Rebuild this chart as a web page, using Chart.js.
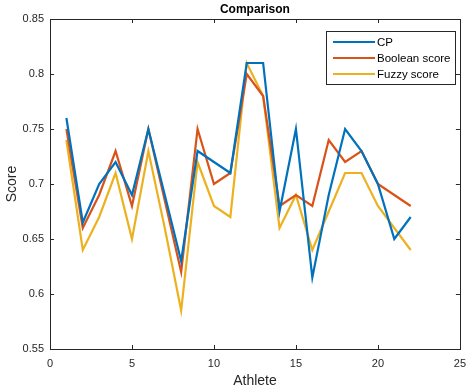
<!DOCTYPE html>
<html>
<head>
<meta charset="utf-8">
<script src="https://cdn.jsdelivr.net/npm/chart.js@4.4.1/dist/chart.umd.min.js"></script>
<style>
  html, body { margin: 0; padding: 0; background: #fff; }
  #wrap { width: 474px; height: 387px; position: relative; }
</style>
</head>
<body>
<div id="wrap"><canvas id="chart" width="474" height="387"></canvas></div>
<script>
// athletes 1..22
const athletes = [1, 2, 3, 4, 5, 6, 7, 8, 9, 10, 11, 12, 13, 14, 15, 16, 17, 18, 19, 20, 21, 22];
const cp = [0.76, 0.665, 0.70, 0.72, 0.69, 0.75, 0.69, 0.63, 0.73, 0.72, 0.71, 0.81, 0.81, 0.675, 0.75, 0.615, 0.69, 0.75, 0.73, 0.70, 0.65, 0.67];
const booleanScore = [0.75, 0.66, 0.69, 0.73, 0.68, 0.75, 0.685, 0.62, 0.75, 0.70, 0.71, 0.80, 0.78, 0.68, 0.69, 0.68, 0.74, 0.72, 0.73, 0.70, 0.69, 0.68];
const fuzzyScore = [0.74, 0.64, 0.67, 0.71, 0.65, 0.73, 0.66, 0.585, 0.72, 0.68, 0.67, 0.81, 0.78, 0.66, 0.69, 0.64, 0.675, 0.71, 0.71, 0.68, 0.66, 0.64];
const seriesNames = ["CP", "Boolean score", "Fuzzy score"];
const seriesColors = ["#0072BD", "#D95319", "#EDB120"];
const xTicks = [0, 5, 10, 15, 20, 25];
const yTicks = [0.55, 0.6, 0.65, 0.7, 0.75, 0.8, 0.85];

const axisColor = "#262626";
const fontFamily = "Liberation Sans, Arial, sans-serif";

function toPoints(vals) {
  return vals.map((v, i) => ({ x: athletes[i], y: v }));
}

// MATLAB style box, inward ticks, titles and legend
const matlabDecor = {
  id: "matlabDecor",
  afterDatasetsDraw(chart) {
    const ctx = chart.ctx;
    const a = chart.chartArea;
    const xs = chart.scales.x, ys = chart.scales.y;
    ctx.save();
    ctx.strokeStyle = axisColor;
    ctx.lineWidth = 1;
    ctx.strokeRect(Math.round(a.left) + 0.5, Math.round(a.top) + 0.5, Math.round(a.right - a.left), Math.round(a.bottom - a.top));
    const tl = 4;
    ctx.beginPath();
    xTicks.forEach((t) => {
      const px = Math.round(xs.getPixelForValue(t)) + 0.5;
      ctx.moveTo(px, a.bottom); ctx.lineTo(px, a.bottom - tl);
      ctx.moveTo(px, a.top); ctx.lineTo(px, a.top + tl);
    });
    yTicks.forEach((t) => {
      const py = Math.round(ys.getPixelForValue(t)) + 0.5;
      ctx.moveTo(a.left, py); ctx.lineTo(a.left + tl, py);
      ctx.moveTo(a.right, py); ctx.lineTo(a.right - tl, py);
    });
    ctx.stroke();

    // title and axis labels
    const cx = (a.left + a.right) / 2;
    ctx.fillStyle = "#000";
    ctx.textAlign = "center";
    ctx.textBaseline = "middle";
    ctx.font = "bold 12px " + fontFamily;
    ctx.fillText("Comparison", cx, 10);
    ctx.fillStyle = axisColor;
    ctx.font = "14px " + fontFamily;
    ctx.fillText("Athlete", cx, 381);
    ctx.save();
    ctx.translate(12, (a.top + a.bottom) / 2);
    ctx.rotate(-Math.PI / 2);
    ctx.fillText("Score", 0, 0);
    ctx.restore();

    // legend
    const lx = 326, ly = 31, lw = 129, lh = 53;
    ctx.fillStyle = "#fff";
    ctx.fillRect(lx, ly, lw, lh);
    ctx.strokeStyle = axisColor;
    ctx.lineWidth = 1;
    ctx.strokeRect(lx + 0.5, ly + 0.5, lw, lh);
    ctx.font = "11.5px " + fontFamily;
    ctx.textAlign = "left";
    seriesNames.forEach((name, i) => {
      const yy = 42 + i * 16;
      ctx.strokeStyle = seriesColors[i];
      ctx.lineWidth = 2;
      ctx.beginPath();
      ctx.moveTo(333, yy); ctx.lineTo(375, yy);
      ctx.stroke();
      ctx.fillStyle = "#000";
      ctx.fillText(name, 377, yy + 1);
    });
    ctx.restore();
  }
};

const data = {
  datasets: [cp, booleanScore, fuzzyScore].map((vals, i) => ({
    label: seriesNames[i],
    data: toPoints(vals),
    borderColor: seriesColors[i],
    backgroundColor: seriesColors[i],
    borderWidth: 2.2,
    pointRadius: 0,
    tension: 0,
    fill: false,
  })),
};

new Chart(document.getElementById("chart"), {
  type: "line",
  data: data,
  options: {
    responsive: false,
    animation: false,
    layout: { padding: { top: 19, right: 6, left: 0, bottom: 0 } },
    plugins: {
      legend: { display: false },
      tooltip: { enabled: false },
      title: { display: false },
    },
    scales: {
      x: {
        type: "linear",
        min: 0,
        max: 25,
        afterFit: (s) => { s.height = 38; },
        afterBuildTicks: (s) => { s.ticks = xTicks.map((v) => ({ value: v })); },
        grid: { display: false, drawTicks: false },
        border: { display: false },
        ticks: {
          padding: 8,
          color: axisColor,
          font: { family: fontFamily, size: 11 },
          maxRotation: 0,
          callback: (v) => String(v),
        },
      },
      y: {
        type: "linear",
        min: 0.55,
        max: 0.85,
        afterFit: (s) => { s.width = 50; },
        afterBuildTicks: (s) => { s.ticks = yTicks.map((v) => ({ value: v })); },
        grid: { display: false, drawTicks: false },
        border: { display: false },
        ticks: {
          padding: 6,
          color: axisColor,
          font: { family: fontFamily, size: 11 },
          callback: (v) => Number(v).toFixed(2).replace(/0$/, "").replace(/\.$/, ""),
        },
      },
    },
  },
  plugins: [matlabDecor],
});
</script>
</body>
</html>
